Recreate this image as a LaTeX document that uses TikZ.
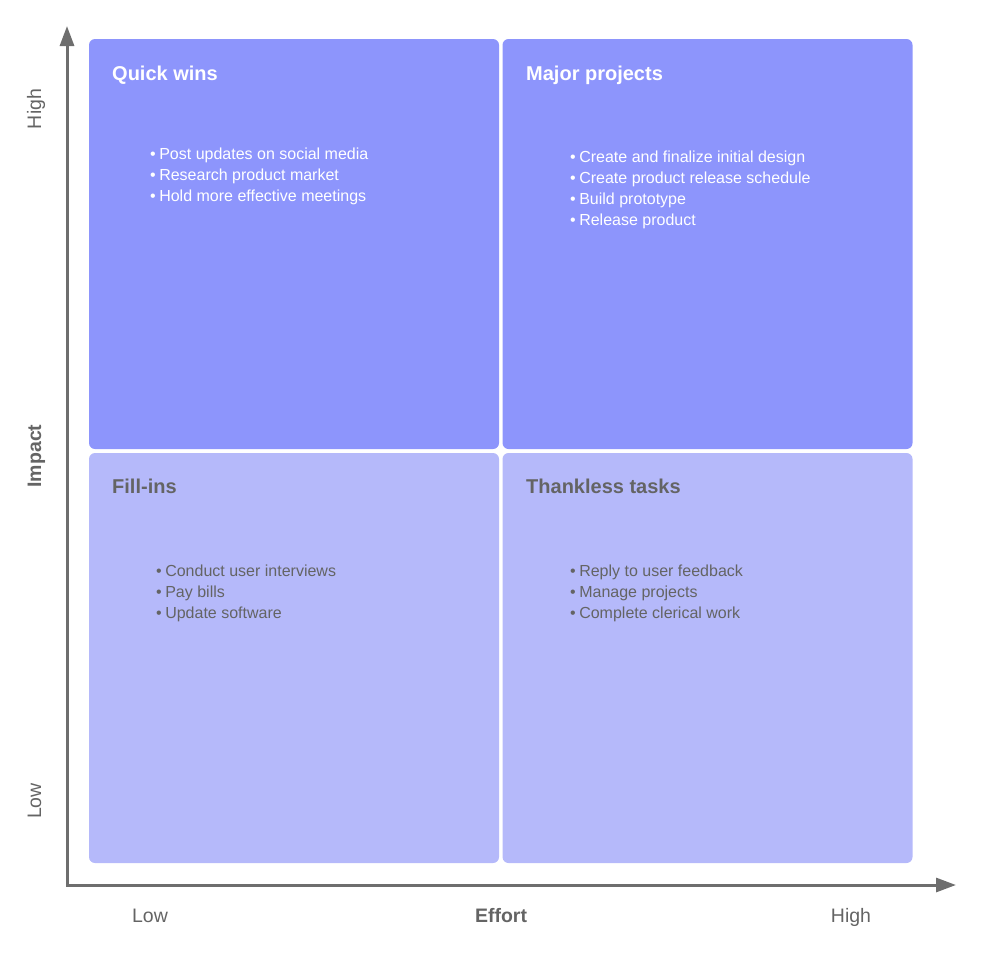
\documentclass[tikz,border=0pt]{standalone}
\usepackage{fontspec}
\setmainfont{Liberation Sans}
\usetikzlibrary{positioning,arrows.meta}
\definecolor{hiq}{RGB}{141,149,252}
\definecolor{loq}{RGB}{181,185,250}
\definecolor{axisgray}{RGB}{110,110,110}
\definecolor{txtgray}{RGB}{100,100,100}
\newcommand{\itm}[1]{\textbullet\hspace{3.5pt}#1}

\begin{document}
\begin{tikzpicture}[
    x=1pt, y=-1pt,
    every node/.style={font=\fontsize{16}{21}\selectfont},
    quad/.style={
        rectangle, rounded corners=6pt, draw=none, inner sep=0pt,
        minimum width=410pt, minimum height=410pt
    },
    hiquad/.style={quad, fill=hiq},
    loquad/.style={quad, fill=loq},
    qtitle/.style={anchor=base west, inner sep=0pt, font=\fontsize{20}{24}\selectfont\bfseries},
    items/.style={anchor=base west, inner sep=0pt, align=left},
    axislabel/.style={anchor=base, inner sep=0pt, text=txtgray, font=\fontsize{19.5}{23}\selectfont},
    axis/.style={{Triangle[length=20pt,width=14pt]}-{Triangle[length=20pt,width=14pt]}, draw=axisgray, line width=3pt, line join=miter}
]
\useasboundingbox (0,0) rectangle (986,954);

% Quadrants
\node[hiquad] (QW) at (294,  244) {};
\node[hiquad] (MP) at (707.5,244) {};
\node[loquad] (FI) at (294,  658) {};
\node[loquad] (TT) at (707.5,658) {};

% ── Titles ──────────────────────────────────────────────────
\node[qtitle, text=white]   (QWt) at (112, 80)  {Quick wins};
\node[qtitle, text=white]   (MPt) at (526, 80)  {Major projects};
\node[qtitle, text=txtgray] (FIt) at (112, 493) {Fill-ins};
\node[qtitle, text=txtgray] (TTt) at (526, 493) {Thankless tasks};

% ── Task lists (placed at the baseline of the last line) ────
\node[items, text=white] (QWl) at (150, 201) {%
  \itm{Post updates on social media} \\
  \itm{Research product market} \\
  \itm{Hold more effective meetings}
};
\node[items, text=white] (MPl) at (570, 225) {%
  \itm{Create and finalize initial design} \\
  \itm{Create product release schedule} \\
  \itm{Build prototype} \\
  \itm{Release product}
};
\node[items, text=txtgray] (FIl) at (156, 618) {%
  \itm{Conduct user interviews} \\
  \itm{Pay bills} \\
  \itm{Update software}
};
\node[items, text=txtgray] (TTl) at (570, 618) {%
  \itm{Reply to user feedback} \\
  \itm{Manage projects} \\
  \itm{Complete clerical work}
};

% ── Axes ────────────────────────────────────────────────────
\coordinate (Ytip) at (67, 26);
\coordinate (Xtip) at (956, 885);
\draw[axis] (Ytip) |- (Xtip);

% Impact (vertical)
\node[axislabel, rotate=90] (yhi)  at (41, 109) {High};
\node[axislabel, rotate=90, font=\fontsize{19.5}{23}\selectfont\bfseries] (ylab) at (41, 456) {Impact};
\node[axislabel, rotate=90] (ylo)  at (41, 801) {Low};

% Effort (horizontal)
\node[axislabel] (xlo)  at (150, 922) {Low};
\node[axislabel, font=\fontsize{19.5}{23}\selectfont\bfseries] (xlab) at (501, 922) {Effort};
\node[axislabel] (xhi)  at (851, 922) {High};

\end{tikzpicture}
\end{document}
